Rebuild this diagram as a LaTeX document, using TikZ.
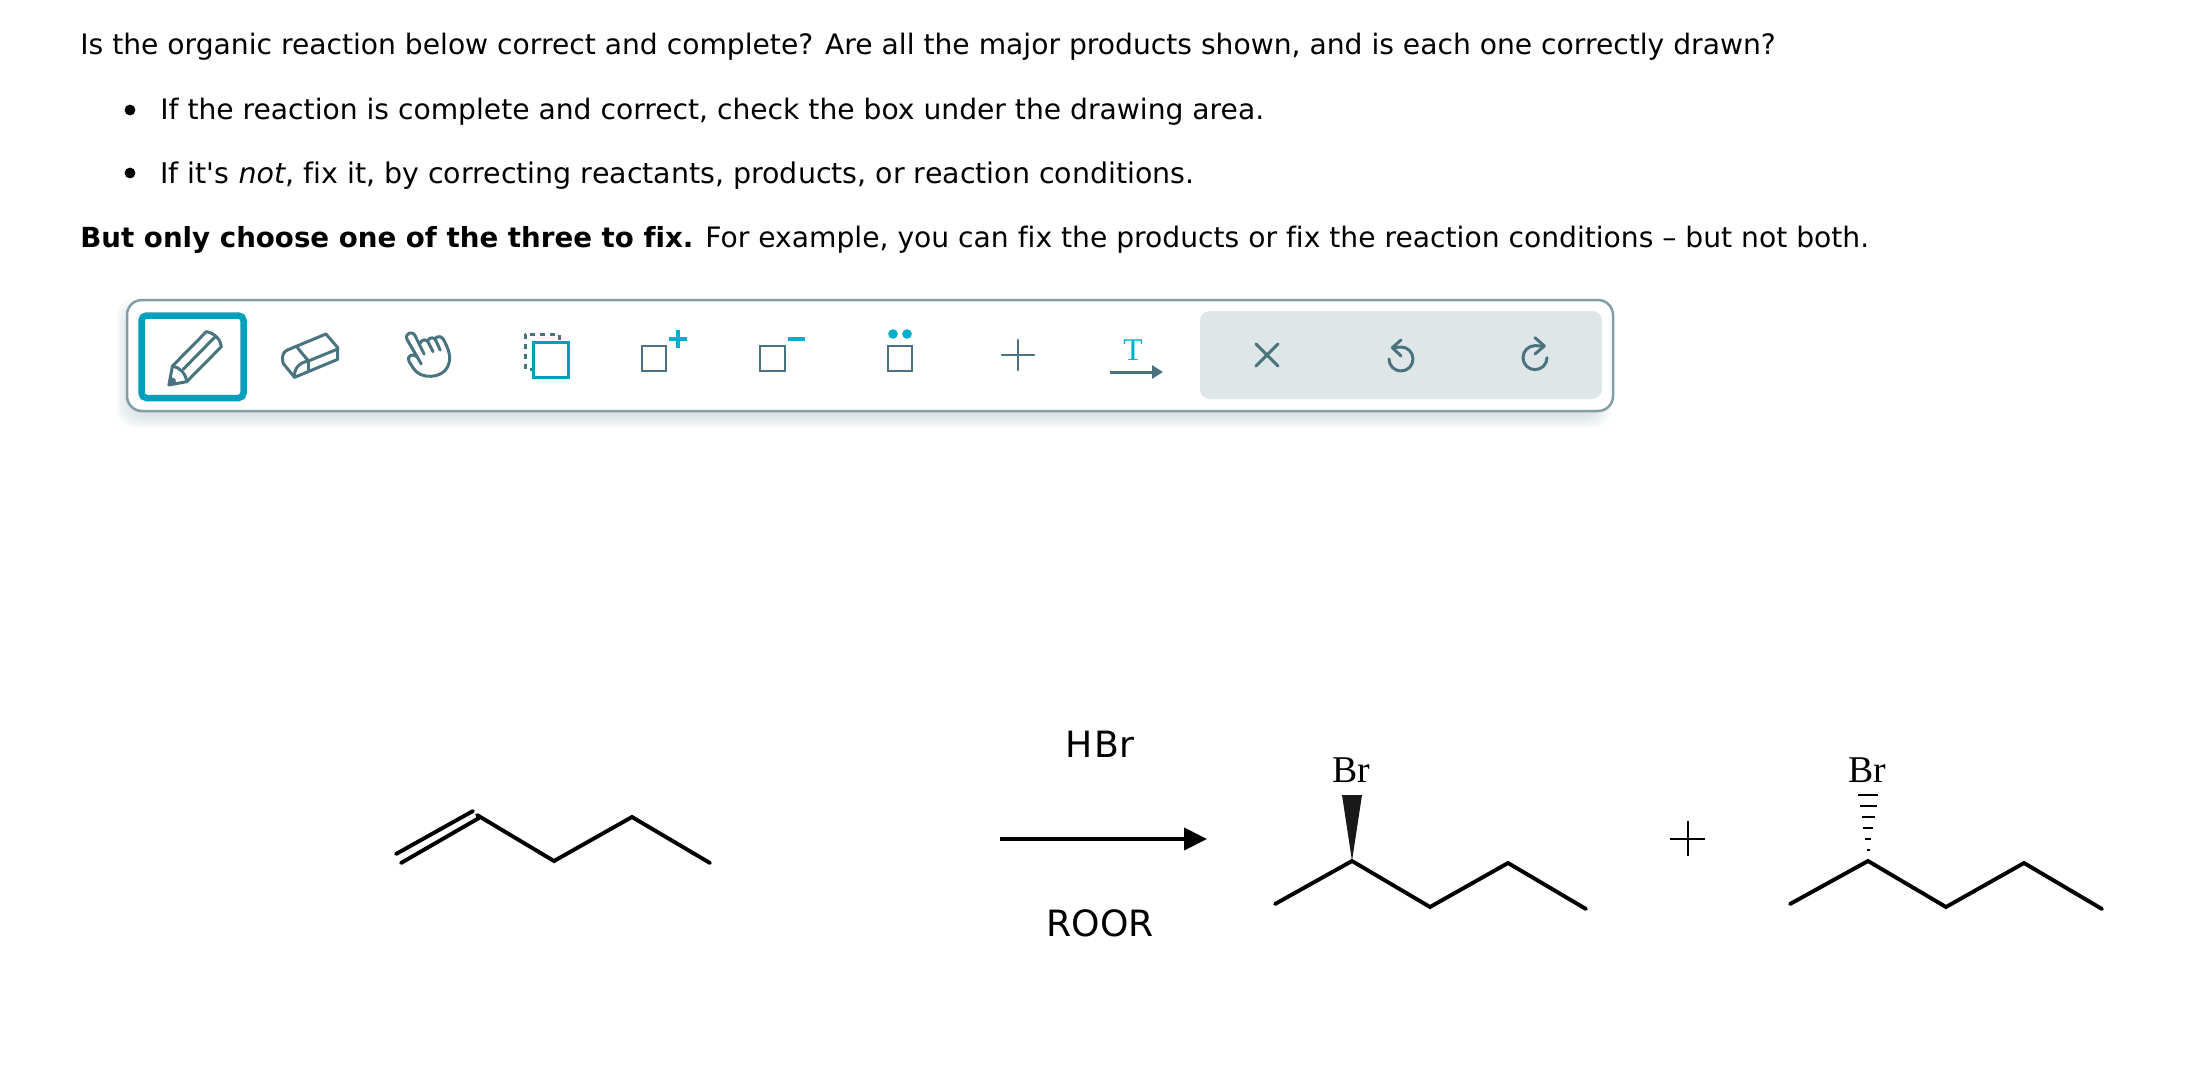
\documentclass[tikz,border=0pt]{standalone}
\usepackage{fontspec}
\setmainfont{DejaVu Sans}[Ligatures=NoCommon]
\newfontfamily\atomfont{Liberation Serif}
\usetikzlibrary{arrows.meta,positioning}
\definecolor{slate}{HTML}{4A7380}
\definecolor{teal}{HTML}{00A0BC}
\definecolor{aqua}{HTML}{00AFCB}
\definecolor{edge}{HTML}{829DA6}
\definecolor{panel}{HTML}{DFE6E8}
\tikzset{
	para/.style={anchor=base west,inner sep=0pt,font=\fontsize{16.03}{19}\selectfont},
	bond/.style={line width=.078cm,black,line cap=round,line join=miter},
	atom/.style={inner sep=0pt,font=\atomfont\fontsize{21.5}{24}\selectfont},
	reagent/.style={inner sep=0pt,font=\fontsize{20.6}{24}\selectfont},
	tool/.style={draw=slate,line width=.06cm,line cap=round,line join=round},
	pick/.style={draw=teal,line width=.06cm},
	sq/.style={draw=slate,line width=.058cm,fill=white},
	zoomed/.style={shift={(#1)},x=.00714cm,y=-.00667cm},
	zoomedb/.style={shift={(#1)},x=.00667cm,y=-.00667cm}
}

\begin{document}
\begin{tikzpicture}[x=.02cm,y=-.02cm]
	\useasboundingbox (0,0) rectangle (2203,1078);
	\node[para] (q1) at (80,55) {Is the organic reaction below correct and complete? Are all the major products shown, and is each one correctly drawn?};
	\node[para] (q2) at (160,119) {If the reaction is complete and correct, check the box under the drawing area.};
	\node[para,font=\fontsize{16.2}{19}\selectfont] (q3) at (160,183) {If it\textquotesingle s \textit{not}, fix it, by correcting reactants, products, or reaction conditions.};
	\node[para] (q4) at (80,247) {{\fontsize{15.75}{19}\selectfont\textbf{But only choose one of the three to fix.}} For example, you can fix the products or fix the reaction conditions -- but not both.};
	\fill (130,110) circle (5.4);
	\fill (130,173) circle (5.4);

	% toolbar
	\foreach \d in {0,2,...,16}
		\fill[slate,opacity=.03,rounded corners=.4cm] (132-\d,314-\d) rectangle (1596+\d,412+\d);
	\draw[edge,line width=.05cm,fill=white,rounded corners=.3cm] (127,300) rectangle (1613,411);
	\fill[panel,rounded corners=.2cm] (1200,311) rectangle (1602,399);
	\draw[teal,line width=.13cm,rounded corners=.1cm] (141.5,315.5) rectangle (243.5,398);

	% pencil, eraser, hand, select
	\begin{scope}[zoomed={110,280}]
		\draw[tool] (175,258) -- (270,155) .. controls (295,160) and (310,180) .. (312,200) -- (215,305) -- (165,315) -- cycle;
		\draw[tool] (175,258) .. controls (195,262) and (212,280) .. (215,305);
		\draw[tool] (205,268) -- (295,170);
		\fill[slate] (175,303) circle (10);
		\draw[tool] (497,210) -- (605,162) -- (638,203) -- (638,238) -- (517,292) -- (485,250) .. controls (480,230) and (485,215) .. (497,210);
		\draw[tool] (525,203) -- (556,243) -- (638,207);
		\draw[tool] (556,243) -- (556,268);
		\draw[tool] (556,243) .. controls (530,248) and (515,265) .. (517,292);
		\draw[tool] (872,252) -- (832,178) .. controls (825,160) and (848,150) .. (855,168) -- (880,222);
		\draw[tool] (868,190) .. controls (875,175) and (888,178) .. (892,188) -- (905,215);
		\draw[tool] (890,182) .. controls (897,170) and (908,172) .. (912,180) -- (925,210);
		\draw[tool] (910,176) .. controls (920,165) and (930,170) .. (935,180) .. controls (955,220) and (955,240) .. (945,262) .. controls (930,295) and (870,300) .. (850,265) -- (838,245) .. controls (828,230) and (850,215) .. (860,232);
		\draw[tool,dash pattern=on .1cm off .1cm,line cap=butt] (1260,180) -- (1260,163) -- (1163,163) -- (1163,268) -- (1186,268);
		\draw[pick,fill=white] (1186,187) rectangle (1284,292);
	\end{scope}

	% add atom, remove atom, lone pair, charge, text arrow
	\draw[sq] (642,346) rectangle (666,371);
	\draw[aqua,line width=.07cm] (669,339) -- (687,339) (678,330) -- (678,348);
	\draw[sq] (760,346) rectangle (785,371);
	\draw[aqua,line width=.07cm] (788,339) -- (805,339);
	\draw[sq] (888,346) rectangle (912,371);
	\fill[aqua] (893,334) circle (4.8) (907,334) circle (4.8);
	\draw[tool,line width=.055cm] (1002,355) -- (1034,355) (1018,340) -- (1018,370);
	\node[inner sep=0pt,aqua,font=\atomfont\fontsize{18}{20}\selectfont] (tlabel) at (1133,350) {T};
	\node[coordinate] (ts) at (1110,372) {};
	\node[coordinate] (te) at (1163,372) {};
	\draw[slate,line width=.06cm,-{Triangle[length=.22cm,width=.26cm]}] (ts) -- (te);

	% clear, undo, redo
	\draw[tool] (1256,344) -- (1278,366) (1278,344) -- (1256,366);
	\begin{scope}[zoomedb={1200,280}]
		\draw[tool] (603,180) -- (577,203) -- (603,228);
		\draw[tool] (580,203) -- (603,201) arc (-90:180:36);
		\draw[tool] (1005,173) -- (1033,198) -- (1005,222);
		\draw[tool] (1030,198) -- (1005,197) arc (-90:-360:36);
	\end{scope}

	% reactant
	\node[coordinate] (r1) at (396,854) {};
	\node[coordinate] (r2) at (473,811) {};
	\node[coordinate] (r3) at (401,863) {};
	\node[coordinate] (r4) at (479,818) {};
	\node[coordinate] (r5) at (477,815) {};
	\node[coordinate] (r6) at (554,861) {};
	\node[coordinate] (r7) at (632,817) {};
	\node[coordinate] (r8) at (710,863) {};
	\draw[bond] (r1) -- (r2);
	\draw[bond] (r3) -- (r4);
	\draw[bond] (r5) -- (r6) -- (r7) -- (r8);

	% reaction arrow
	\node[coordinate] (as) at (1000,839) {};
	\node[coordinate] (ae) at (1207,839) {};
	\draw[line width=.08cm,-{Triangle[length=.46cm,width=.44cm]}] (as) -- (ae);
	\node[reagent] (hbr) at (1100,744) {H\kern.06em Br};
	\node[reagent] (roor) at (1100,923) {ROOR};

	% product with wedge
	\node[coordinate] (a1) at (1275,904) {};
	\node[coordinate] (a2) at (1352,861) {};
	\node[coordinate] (a3) at (1430,907) {};
	\node[coordinate] (a4) at (1508,863) {};
	\node[coordinate] (a5) at (1586,909) {};
	\node[atom] (bra) at (1351,770) {Br};
	\draw[bond] (a1) -- (a2) -- (a3) -- (a4) -- (a5);
	\fill[black!90] (a2) -- (1342,795) -- (1362,795) -- cycle;

	% plus
	\node[coordinate] (p1) at (1670,839) {};
	\node[coordinate] (p2) at (1705,839) {};
	\node[coordinate] (p3) at (1688,821) {};
	\node[coordinate] (p4) at (1688,856) {};
	\draw[line width=.05cm] (p1) -- (p2) (p3) -- (p4);

	% product with hash
	\node[coordinate] (b1) at (1790,904) {};
	\node[coordinate] (b2) at (1868,861) {};
	\node[coordinate] (b3) at (1946,907) {};
	\node[coordinate] (b4) at (2024,863) {};
	\node[coordinate] (b5) at (2102,909) {};
	\node[atom] (brb) at (1867,770) {Br};
	\draw[bond] (b1) -- (b2) -- (b3) -- (b4) -- (b5);
	\foreach \y/\w in {795/10,806/8.5,817/6.5,828/5,839/3.3,850/1.5}
		\draw[line width=.058cm] (1868-\w,\y) -- (1868+\w,\y);
\end{tikzpicture}
\end{document}
